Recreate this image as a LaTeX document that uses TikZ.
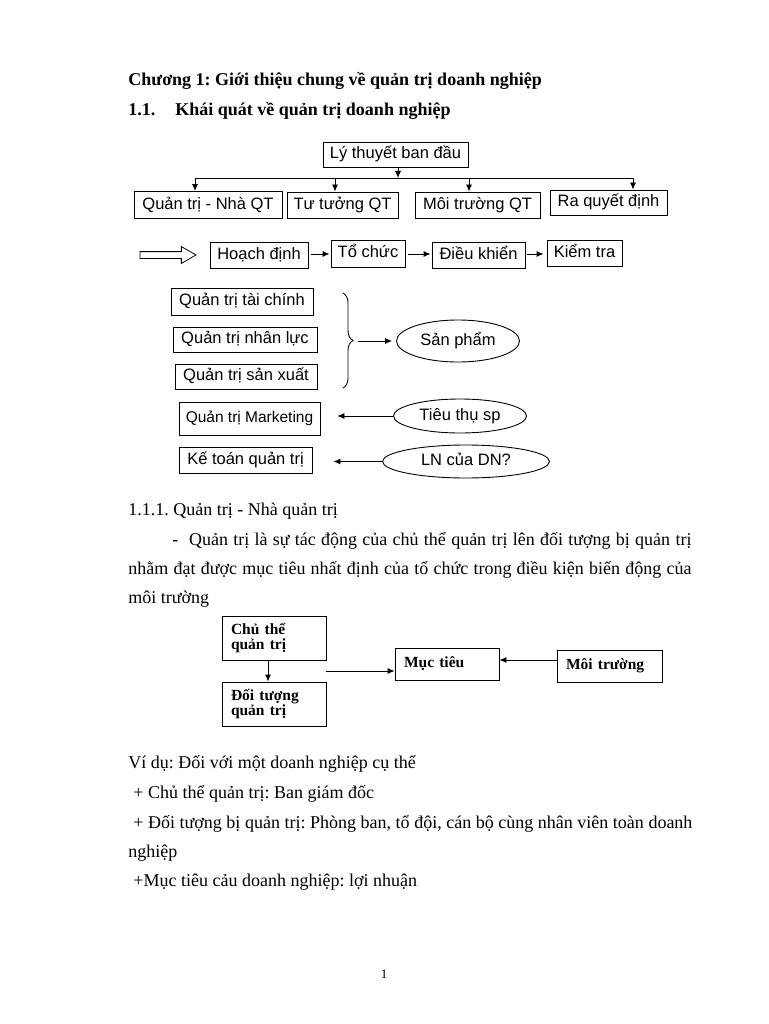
\documentclass[tikz,border=0pt]{standalone}
\usepackage{fontspec}
\setmainfont{Liberation Serif}
\newfontfamily\arl{Liberation Sans}
\usetikzlibrary{arrows.meta,shapes.geometric,shapes.arrows,decorations.pathreplacing}
\tikzset{bx/.append style={draw, inner sep=0pt, text height=12pt, text depth=3.5pt, font=\arl\fontsize{16.5}{18}\selectfont}}
\tikzset{el/.append style={draw, ellipse, inner sep=0pt, text height=12pt, text depth=3.5pt, font=\arl\fontsize{16.5}{18}\selectfont}}
\tikzset{bb/.append style={draw, inner xsep=9pt, inner ysep=0pt, align=left, font=\fontsize{15.5}{15.5}\selectfont\bfseries}}
\tikzset{ar/.append style={-{Latex[length=7pt,width=6pt]}}}
\tikzset{tx/.append style={anchor=base west, inner sep=0pt, font=\fontsize{18}{20}\selectfont}}

\begin{document}
\frenchspacing
\begin{tikzpicture}[x=1pt,y=-1pt,line width=0.9pt]
                \useasboundingbox (0,0) rectangle (768,1024);
                % headings
                \node[tx] (h1) at (128,86) {\bfseries Chương 1: Giới thiệu chung về quản trị doanh nghiệp};
                \node[tx] (h2) at (128,116) {\bfseries 1.1.};
                \node[tx] (h3) at (175,116) {\bfseries Khái quát về quản trị doanh nghiệp};
                % first diagram
                \node[bx,minimum width=145pt,minimum height=25pt] (lt) at (395.5,154.5) {Lý thuyết ban đầu};
                \node[bx,minimum width=148pt,minimum height=27pt] (qt) at (208,205) {Quản trị - Nhà QT};
                \node[bx,minimum width=111pt,minimum height=26pt] (tt) at (342.5,205) {Tư tưởng QT};
                \node[bx,minimum width=125pt,minimum height=26pt] (mt) at (477.5,205) {Môi trường QT};
                \node[bx,minimum width=117pt,minimum height=25pt] (rq) at (608.5,202.5) {Ra quyết định};
                \coordinate (b1) at (195,178);
                \coordinate (b2) at (335,178);
                \coordinate (b3) at (469,178);
                \coordinate (b4) at (633,178);
                \draw (b1) -- (b4);
                \draw[ar] ([xshift=2.5pt]lt.south) -- ([xshift=2.5pt]lt.south |- b1);
                \draw[ar] (b1) -- (b1 |- qt.north);
                \draw[ar] (b2) -- (b2 |- tt.north);
                \draw[ar] (b3) -- (b3 |- mt.north);
                \draw[ar] (b4) -- (b4 |- rq.north);
                % second row
                \node[single arrow,draw,line width=0.8pt,minimum height=56pt,inner sep=3pt,
                      single arrow head extend=5pt,single arrow tip angle=60] (ha) at (165,255) {};
                \node[bx,minimum width=98pt,minimum height=26pt] (hd) at (259,255) {Hoạch định};
                \node[bx,minimum width=74pt,minimum height=27pt] (tc) at (368,253.5) {Tổ chức};
                \node[bx,minimum width=93pt,minimum height=26pt] (dk) at (478.5,255) {Điều khiển};
                \node[bx,minimum width=75pt,minimum height=26pt] (kt) at (584.5,253) {Kiểm tra};
                \draw[ar,shorten <=3pt,shorten >=1pt] (hd.east |- 0,254) -- (tc.west |- 0,254);
                \draw[ar,shorten <=3pt,shorten >=1pt] (tc.east |- 0,254) -- (dk.west |- 0,254);
                \draw[ar,shorten <=2pt,shorten >=3pt] (dk.east |- 0,254) -- (kt.west |- 0,254);
                % third block
                \node[bx,minimum width=142pt,minimum height=27pt] (ctc) at (242,301.5) {Quản trị tài chính};
                \node[bx,minimum width=144pt,minimum height=25pt] (cnl) at (245,339.5) {Quản trị nhân lực};
                \node[bx,minimum width=142pt,minimum height=25pt] (csx) at (246,376.5) {Quản trị sản xuất};
                \node[bx,minimum width=141pt,minimum height=33pt,font=\arl\fontsize{15.5}{18}\selectfont] (cmk) at (249.5,418.5) {Quản trị Marketing};
                \node[bx,minimum width=133pt,minimum height=26pt] (ckt) at (245.5,460) {Kế toán quản trị};
                \node[el,minimum width=123pt,minimum height=42pt] (sp) at (458,341) {Sản phẩm};
                \node[el,minimum width=133pt,minimum height=34pt] (ts) at (460,416) {Tiêu thụ sp};
                \node[el,minimum width=167pt,minimum height=33pt] (ln) at (466,461.5) {LN của DN?};
                \draw[decorate,decoration={brace,amplitude=10pt}] (343,293) -- (343,388);
                \coordinate (br) at (358,341);
                \draw[ar,shorten >=4pt] (br) -- (sp.west);
                \draw[ar,shorten >=17pt] (ts.west) -- (ts.west -| cmk.east);
                \draw[ar,shorten >=21pt] (ln.west) -- (ln.west -| ckt.east);
                % text
                \node[tx] (p1) at (128,515) {1.1.1. Quản trị - Nhà quản trị};
                \node[tx] (p2) at (172,545) {\hbox to 519pt{-\ \ Quản trị là sự tác động của chủ thể quản trị lên đối tượng bị quản trị}};
                \node[tx] (p3) at (128,574) {\hbox to 563pt{nhằm đạt được mục tiêu nhất định của tổ chức trong điều kiện biến động của}};
                \node[tx] (p4) at (128,603) {môi trường};
                % second diagram
                \node[bb,minimum height=44pt,text width=86pt] (chu) at (274,638) {Chủ thể\\quản trị};
                \node[bb,minimum height=44pt,text width=86pt] (doi) at (274,704) {Đối tượng\\quản trị};
                \node[bb,minimum height=32pt,text width=86pt] (muc) at (447,664) {Mục tiêu};
                \node[bb,minimum height=32pt,text width=87pt] (moi) at (609.5,666) {Môi trường};
                \draw[ar] ([xshift=-6pt]chu.south) -- ([xshift=-6pt]doi.north);
                \coordinate (cj) at (326,671);
                \draw[ar] (cj) -- (cj -| muc.west);
                \coordinate (mj) at (557,660);
                \draw[ar] (mj) -- (mj -| muc.east);
                % example
                \node[tx] (v1) at (128,768) {Ví dụ: Đối với một doanh nghiệp cụ thể};
                \node[tx] (v2) at (133,798) {+ Chủ thể quản trị: Ban giám đốc};
                \node[tx] (v3) at (133,828) {\hbox to 559pt{+ Đối tượng bị quản trị: Phòng ban, tổ đội, cán bộ cùng nhân viên toàn doanh}};
                \node[tx] (v4) at (128,857) {nghiệp};
                \node[tx] (v5) at (133,886) {+Mục tiêu cảu doanh nghiệp: lợi nhuận};
                \node[anchor=base,inner sep=0pt,font=\fontsize{13}{15}\selectfont] (pg) at (384,978) {1};
            \end{tikzpicture}
\end{document}
